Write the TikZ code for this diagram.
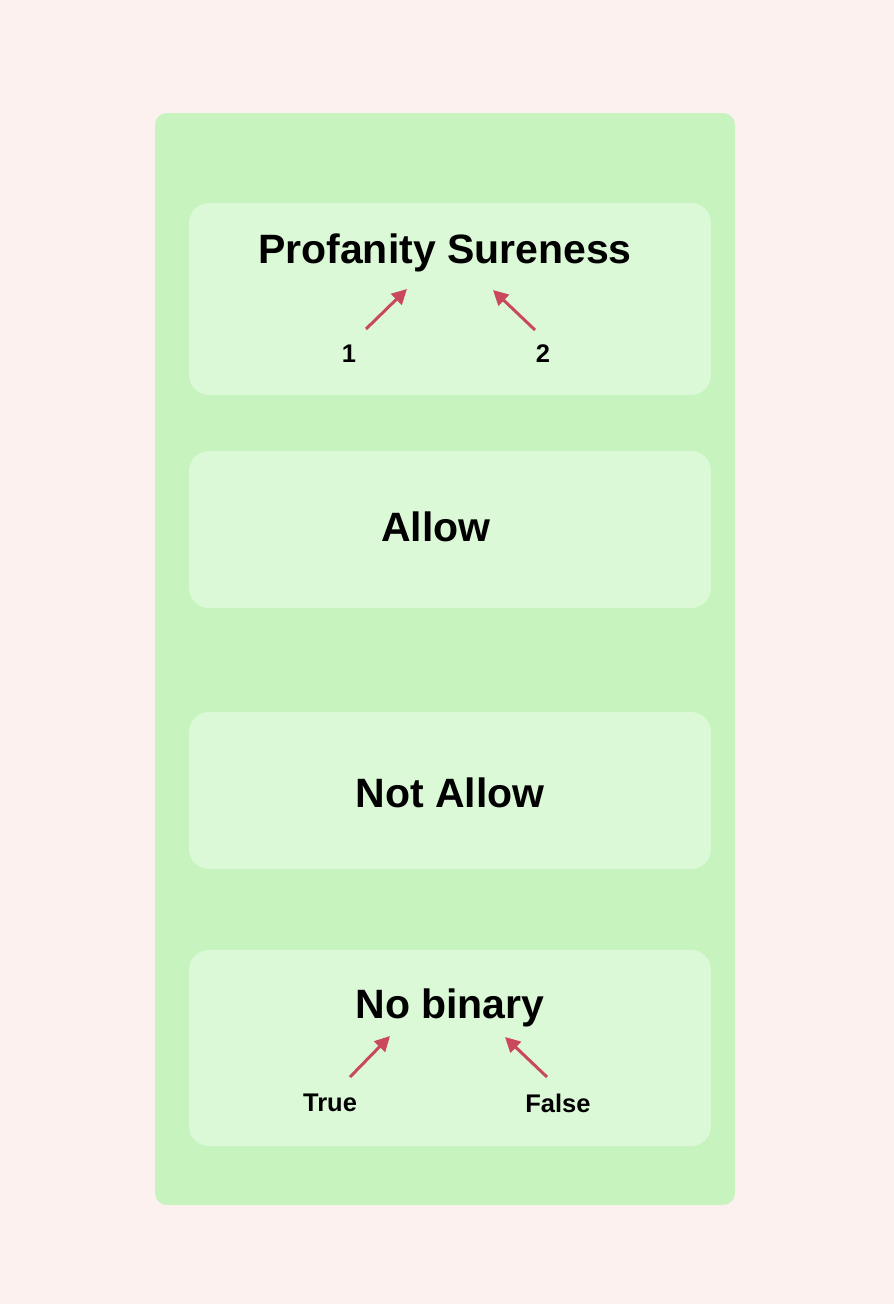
\documentclass[tikz,border=0pt]{standalone}
\usepackage{fontspec}
\setmainfont{Liberation Sans}
\usetikzlibrary{arrows.meta}
\definecolor{bgc}{HTML}{FDF1F0}
\definecolor{outerc}{HTML}{C6F3BE}
\definecolor{innerc}{HTML}{DBF9D6}
\definecolor{arrc}{HTML}{C9485B}
\tikzset{
  x=1pt,y=-1pt,
  panel/.style={fill=innerc, draw=none, rounded corners=20pt},
  title/.style={font=\fontsize{41}{46}\selectfont\bfseries, text=black, inner sep=0pt, anchor=center},
  lab/.style={font=\fontsize{25.5}{28}\selectfont\bfseries, text=black, inner sep=0pt, anchor=center},
  ptr/.style={draw=arrc, line width=3pt, -{Triangle[length=15pt,width=15pt]}},
}
\begin{document}
\begin{tikzpicture}
\useasboundingbox (0,0) rectangle (894,1304);
\fill[bgc] (0,0) rectangle (894,1304);
\fill[outerc, rounded corners=12pt] (155,113) rectangle (735,1205);
\fill[panel] (189,203) rectangle (711,395);
\fill[panel] (189,451) rectangle (711,608);
\fill[panel] (189,712) rectangle (711,869);
\fill[panel] (189,950) rectangle (711,1146);
\node[title] (t1) at (445,253) {Profanity Sureness};
\node[title] (t2) at (436,527) {Allow};
\node[title] (t3) at (450,793) {Not Allow};
\node[title] (t4) at (450,1008) {No binary};
\node[lab] (l1) at (349,354) {1};
\node[lab] (l2) at (543,354) {2};
\node[lab] (l3) at (330,1103) {True};
\node[lab] (l4) at (558,1103) {False};
\coordinate (a1s) at (366,329); \coordinate (a1e) at (407,289);
\coordinate (a2s) at (535,330); \coordinate (a2e) at (493,290);
\coordinate (a3s) at (350,1077); \coordinate (a3e) at (390,1036);
\coordinate (a4s) at (547,1077); \coordinate (a4e) at (505,1037);
\draw[ptr] (a1s) -- (a1e);
\draw[ptr] (a2s) -- (a2e);
\draw[ptr] (a3s) -- (a3e);
\draw[ptr] (a4s) -- (a4e);
\end{tikzpicture}
\end{document}
